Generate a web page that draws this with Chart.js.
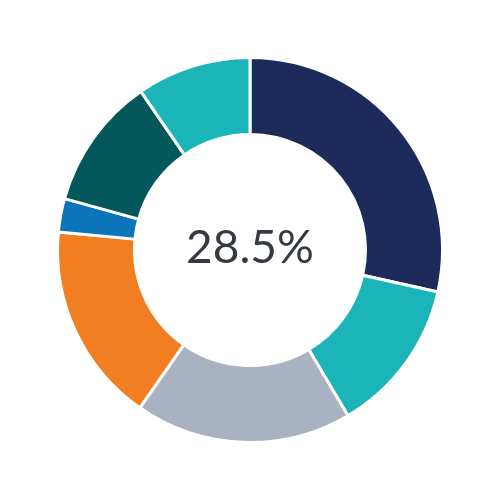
<!DOCTYPE html>
<html>
<head>
<meta charset="utf-8">
<script src="https://cdn.jsdelivr.net/npm/chart.js@4"></script>
<style>
  html, body { margin: 0; padding: 0; background: #fff; }
  #wrap { width: 500px; height: 500px; }
</style>
</head>
<body>
<div id="wrap"><canvas id="donutChart" width="500" height="500"></canvas></div>
<script>
const labels = ['Segment 1', 'Segment 2', 'Segment 3', 'Segment 4', 'Segment 5', 'Segment 6', 'Segment 7'];
const shares = [28.5, 13.0, 18.2, 16.8, 2.8, 11.1, 9.6];
const colors = ['#1d2b5b', '#1bb4b9', '#a8b2c0', '#f17f22', '#0c74b8', '#04575a', '#1bb4b9'];
const centerLabel = '28.5%';

// draws the big number in the hole
const centerText = {
  id: 'centerText',
  afterDraw(chart) {
    const { ctx, chartArea } = chart;
    const x = (chartArea.left + chartArea.right) / 2;
    const y = (chartArea.top + chartArea.bottom) / 2;
    ctx.save();
    ctx.font = '400 46px Lato';
    ctx.fillStyle = '#353a42';
    ctx.textAlign = 'center';
    ctx.textBaseline = 'middle';
    ctx.fillText(centerLabel, x, y - 2);
    ctx.restore();
  }
};

const ctx = document.getElementById('donutChart').getContext('2d');
new Chart(ctx, {
  type: 'doughnut',
  data: {
    labels: labels,
    datasets: [{
      data: shares,
      backgroundColor: colors,
      borderColor: '#ffffff',
      borderWidth: 3,
    }]
  },
  options: {
    responsive: false,
    animation: false,
    cutout: '60%',
    layout: { padding: 56 },
    plugins: {
      legend: { display: false },
      tooltip: { enabled: false }
    }
  },
  plugins: [centerText]
});
</script>
</body>
</html>
